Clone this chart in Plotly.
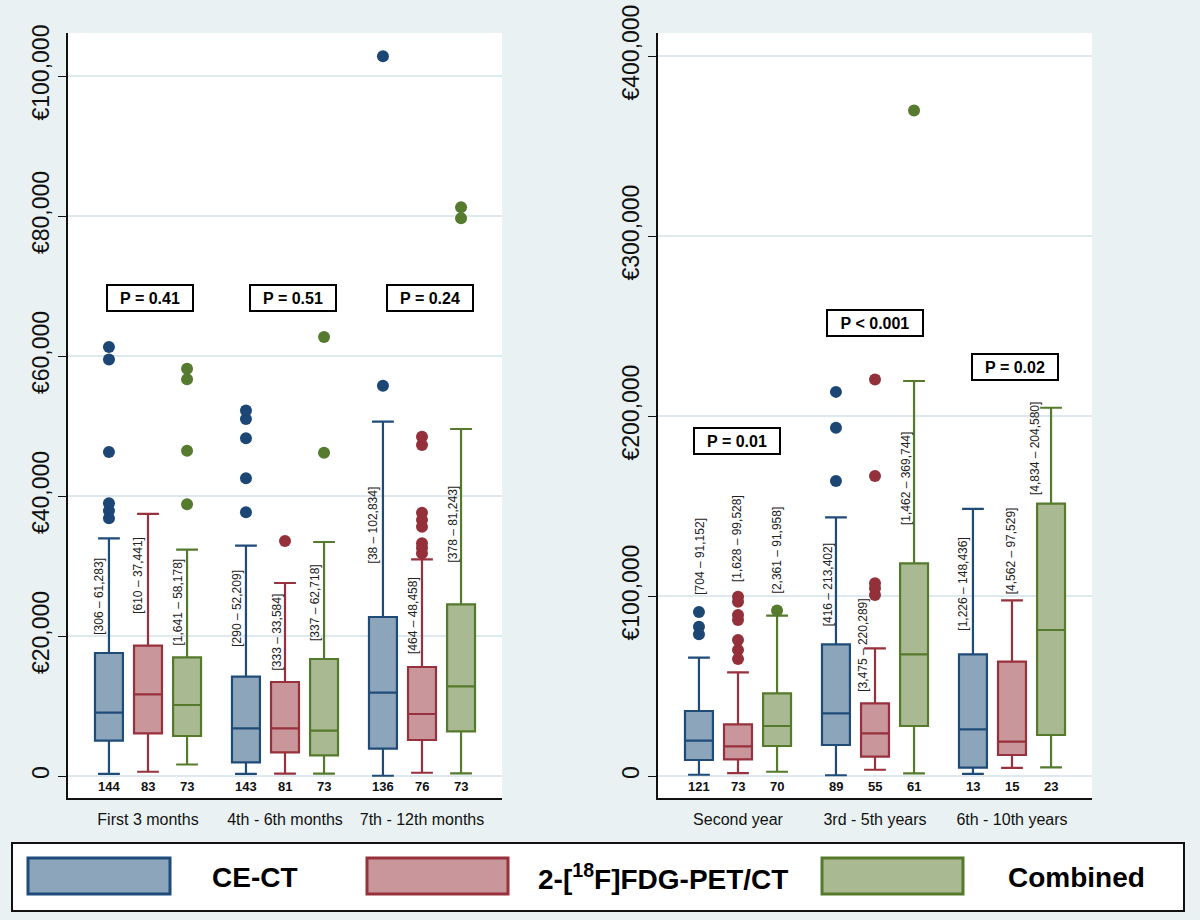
import plotly.graph_objects as go

# ---------------- data ----------------
series_names = ["CE-CT", "2-[<sup>18</sup>F]FDG-PET/CT", "Combined"]
left_groups = ["First 3 months", "4th - 6th months", "7th - 12th months"]
right_groups = ["Second year", "3rd - 5th years", "6th - 10th years"]

# rows = series (CE-CT, PET/CT, Combined), columns = groups
L_lo = [[306, 290, 38], [610, 333, 464], [1641, 337, 378]]
L_q1 = [[5043, 1952, 3905], [6095, 3381, 5143], [5714, 2952, 6381]]
L_med = [[9048, 6810, 11905], [11667, 6810, 8857], [10143, 6476, 12810]]
L_q3 = [[17571, 14190, 22714], [18619, 13429, 15571], [16952, 16714, 24524]]
L_hi = [[33952, 32905, 50619], [37441, 27571, 30952], [32333, 33429, 49571]]
L_out = [
    [[61283, 59500, 46300, 38952, 37905, 36810], [52209, 51000, 48238, 42524, 37667], [102834, 55762]],
    [[], [33584], [48458, 47286, 37614, 36571, 35614, 33243, 32571, 31814]],
    [[58178, 56667, 46476, 38810], [62718, 46190], [81243, 79667]],
]
L_n = [[144, 143, 136], [83, 81, 76], [73, 73, 73]]
L_rng = [["[306 – 61,283]", "[290 – 52,209]", "[38 – 102,834]"],
         ["[610 – 37,441]", "[333 – 33,584]", "[464 – 48,458]"],
         ["[1,641 – 58,178]", "[337 – 62,718]", "[378 – 81,243]"]]
L_p = ["P = 0.41", "P = 0.51", "P = 0.24"]

R_lo = [[704, 416, 1226], [1628, 3475, 4562], [2361, 1462, 4834]]
R_q1 = [[8889, 17222, 4630], [9259, 10741, 11667], [16667, 27778, 22778]]
R_med = [[19630, 34815, 25926], [16481, 23704, 19074], [27778, 67593, 81111]]
R_q3 = [[36111, 73148, 67593], [28704, 40370, 63519], [45926, 118148, 151296]]
R_hi = [[65741, 143704, 148436], [57593, 70926, 97529], [89074, 219444, 204580]]
R_out = [
    [[91152, 82963, 78704], [213402, 193519, 163889], []],
    [[99528, 96852, 89444, 86667, 75556, 70000, 65000], [220289, 166667, 107037, 104259, 100556], []],
    [[91958], [369744], []],
]
R_n = [[121, 89, 13], [73, 55, 15], [70, 61, 23]]
R_rng = [["[704 – 91,152]", "[416 – 213,402]", "[1,226 – 148,436]"],
         ["[1,628 – 99,528]", "[3,475 – 220,289]", "[4,562 – 97,529]"],
         ["[2,361 – 91,958]", "[1,462 – 369,744]", "[4,834 – 204,580]"]]
R_p = ["P = 0.01", "P < 0.001", "P = 0.02"]

L_ticks = [0, 20000, 40000, 60000, 80000, 100000]
R_ticks = [0, 100000, 200000, 300000, 400000]

# ---------------- placement (layout only) ----------------
PX_PER_UNIT = 137.0
offs = [-0.285, 0.0, 0.285]
BOX_W = 0.204
L_lbl_y = [[25743, 24029, 35929], [28600, 20500, 22857], [24786, 24714, 35929]]
L_lbl_dx = [[-10, -9, -10], [-10, -9, -9], [-10, -9, -9]]
R_lbl_y = [[122333, 106444, 106833], [131667, 72333, 125389], [125333, 165000, 181667]]
R_lbl_dx = [[1, -8, -10], [-1, -12, -1], [0, -8, -16]]
L_p_pos = [(1.5, 68286), (8, 68286), (8, 68286)]
R_p_pos = [(-1, 186111), (0, 251667), (3, 226944)]

line_cols = ["#1f4b78", "#98303d", "#557a2c"]
fill_cols = ["#8da5bb", "#c9979b", "#a9ba92"]
dot_cols = ["#1c4775", "#93303a", "#567a2e"]
BG = "#e9f1f3"
GRID = "#dde9ee"
FONT = "Liberation Sans, Arial, sans-serif"

fig = go.Figure()
annotations = []

def add_panel(xa, ya, lo, q1, med, q3, hi, outs, ns, rngs, lbl_y, lbl_dx, pvals, ppos, nshift):
    xr = "x" if xa == "x" else "x2"
    yr = "y" if ya == "y" else "y2"
    for s in range(3):
        xs = [g + 1 + offs[s] for g in range(3)]
        fig.add_trace(go.Box(
            x=xs, q1=q1[s], median=med[s], q3=q3[s], lowerfence=lo[s], upperfence=hi[s],
            width=BOX_W, whiskerwidth=0.78, boxpoints=False,
            line=dict(color=line_cols[s], width=2.2), fillcolor=fill_cols[s],
            xaxis=xr, yaxis=yr, showlegend=False, hoverinfo="skip"))
        ox, oy = [], []
        for g in range(3):
            for v in outs[s][g]:
                ox.append(xs[g]); oy.append(v)
        if ox:
            fig.add_trace(go.Scatter(x=ox, y=oy, mode="markers",
                                     marker=dict(color=dot_cols[s], size=12),
                                     xaxis=xr, yaxis=yr, showlegend=False, hoverinfo="skip"))
        for g in range(3):
            annotations.append(dict(x=xs[g] + lbl_dx[s][g] / PX_PER_UNIT, y=lbl_y[s][g],
                                    xref=xr, yref=yr, text=rngs[s][g], textangle=-90,
                                    xanchor="center", yanchor="middle",
                                    showarrow=False, font=dict(family=FONT, size=12, color="#222")))
            annotations.append(dict(x=xs[g], y=0, xref=xr, yref=yr, yshift=nshift,
                                    xanchor="center", yanchor="middle",
                                    text="<b>%d</b>" % ns[s][g], showarrow=False,
                                    font=dict(family=FONT, size=13, color="#111")))
    for g in range(3):
        annotations.append(dict(x=g + 1 + ppos[g][0] / PX_PER_UNIT, y=ppos[g][1], xref=xr, yref=yr,
                                xanchor="center", yanchor="middle",
                                text="<b>%s</b>" % pvals[g], showarrow=False,
                                font=dict(family=FONT, size=16, color="#000"),
                                bgcolor="white", bordercolor="#000", borderwidth=2,
                                borderpad=3, width=78 if "<" not in pvals[g] else 88, height=18))

add_panel("x", "y", L_lo, L_q1, L_med, L_q3, L_hi, L_out, L_n, L_rng, L_lbl_y, L_lbl_dx, L_p, L_p_pos, -10)
add_panel("x2", "y2", R_lo, R_q1, R_med, R_q3, R_hi, R_out, R_n, R_rng, R_lbl_y, R_lbl_dx, R_p, R_p_pos, -10)

def euro(v):
    return "0" if v == 0 else "€{:,}".format(v)

yaxis_common = dict(showline=True, linecolor="#111", linewidth=1.5, ticks="outside", ticklen=8,
                    tickcolor="#111", tickangle=-90, showgrid=True, gridcolor=GRID, gridwidth=1.5,
                    zeroline=False, automargin=False,
                    tickfont=dict(family=FONT, size=23, color="#111"))
xaxis_common = dict(showline=True, linecolor="#111", linewidth=1.5, ticks="outside", ticklen=6,
                    tickcolor="rgba(0,0,0,0)", showgrid=False, zeroline=False, automargin=False,
                    range=[0.416, 3.584], tickvals=[1, 2, 3],
                    tickfont=dict(family=FONT, size=16, color="#111"))

W, H = 1200, 920
def fx(p): return p / W
def fy(p): return 1 - p / H

fig.update_layout(
    width=W, height=H, autosize=False, margin=dict(l=0, r=0, t=0, b=0, pad=0),
    paper_bgcolor=BG, plot_bgcolor="white", boxmode="overlay",
    xaxis=dict(domain=[fx(68), fx(502)], ticktext=left_groups, anchor="y", **xaxis_common),
    yaxis=dict(domain=[fy(798), fy(33)], range=[-3143, 106143], tickvals=L_ticks,
               ticktext=[euro(v) for v in L_ticks], anchor="x", **yaxis_common),
    xaxis2=dict(domain=[fx(658), fx(1092)], ticktext=right_groups, anchor="y2", **xaxis_common),
    yaxis2=dict(domain=[fy(798), fy(33)], range=[-12222, 412778], tickvals=R_ticks,
                ticktext=[euro(v) for v in R_ticks], anchor="x2", **yaxis_common),
)

# legend drawn as a framed key below the panels
shapes = [dict(type="rect", xref="paper", yref="paper", x0=fx(12), x1=fx(1184), y0=fy(911), y1=fy(843),
               fillcolor="white", line=dict(color="#111", width=2))]
sw = [(28, 170), (367, 508), (822, 963)]
txt_x = [255, 663, 1076]
for s in range(3):
    shapes.append(dict(type="rect", xref="paper", yref="paper", x0=fx(sw[s][0]), x1=fx(sw[s][1]),
                       y0=fy(894), y1=fy(858), fillcolor=fill_cols[s],
                       line=dict(color=line_cols[s], width=3)))
    annotations.append(dict(x=fx(txt_x[s]), y=fy(877), xref="paper", yref="paper",
                            xanchor="center", yanchor="middle",
                            text="<b>%s</b>" % series_names[s], showarrow=False,
                            font=dict(family=FONT, size=28, color="#000")))
fig.update_layout(shapes=shapes, annotations=annotations)

fig.write_html("out.html", config={"displayModeBar": False},
               post_script="document.body.style.margin='0';document.body.style.overflow='hidden';")
